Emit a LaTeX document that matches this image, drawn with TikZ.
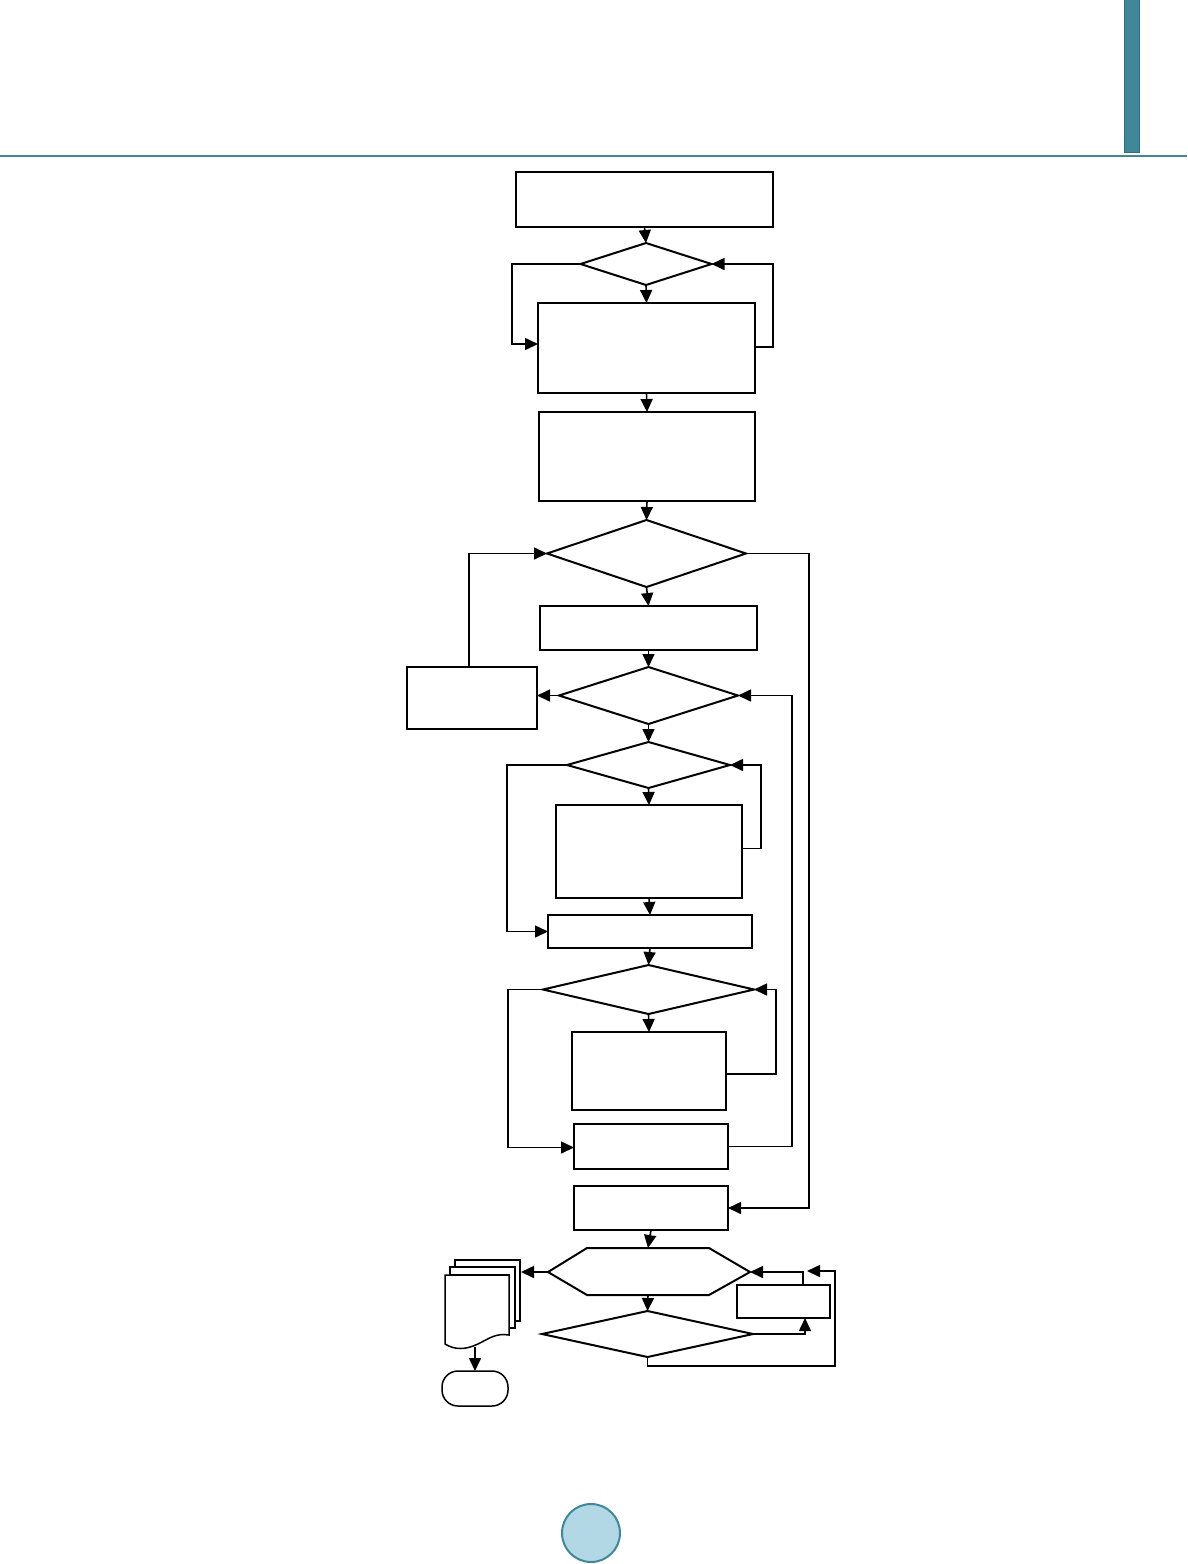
\documentclass[tikz,border=0pt]{standalone}
\usetikzlibrary{shapes.geometric,arrows.meta,calc}
\definecolor{teal1}{HTML}{3F8799}
\definecolor{teal2}{HTML}{2A6F82}
\definecolor{pagefill}{HTML}{B3D8E5}
\tikzset{
  box/.style={draw, line width=2.3pt, inner sep=0pt, outer sep=0pt, fill=white},
  dia/.style={draw, diamond, line width=2pt, inner sep=0pt, outer sep=0pt, fill=white},
  conn/.style={line width=1.6pt, -{Triangle[length=13pt,width=12pt]}},
}
\begin{document}
\begin{tikzpicture}[x=1pt,y=-1pt]
\useasboundingbox (0,0) rectangle (1187,1564);
% page decoration
\draw[teal1, line width=2.5pt] (0,156) -- (1187,156);
\draw[teal2, fill=teal1, line width=1pt] (1124,-2) rectangle (1139,152);
\draw[teal1, fill=pagefill, line width=2pt] (591,1533) circle (29);

% main column
\node[box, line width=2.8pt, minimum width=257pt, minimum height=55pt] (A) at (644.5,199.5) {};
\node[dia, minimum width=131pt, minimum height=42pt] (D1) at (646,264) {};
\node[box, line width=2.8pt, minimum width=217pt, minimum height=90pt] (B) at (646.5,348) {};
\node[box, minimum width=216pt, minimum height=89pt] (C) at (647,456.5) {};
\node[dia, minimum width=199pt, minimum height=67pt] (D2) at (646.5,553.5) {};
\node[box, minimum width=217pt, minimum height=44pt] (Dx) at (648.5,628) {};
\node[dia, minimum width=179pt, minimum height=57pt] (D3) at (648.5,695.5) {};
\node[box, minimum width=130pt, minimum height=62pt] (E) at (472,698) {};
\node[dia, minimum width=163pt, minimum height=46pt] (D4) at (648.5,765) {};
\node[box, minimum width=186pt, minimum height=93pt] (F) at (649,851.5) {};
\node[box, minimum width=204pt, minimum height=33pt] (G) at (650,931.5) {};
\node[dia, minimum width=211pt, minimum height=49pt] (D5) at (648.5,989.5) {};
\node[box, minimum width=154pt, minimum height=78pt] (H) at (649,1071) {};
\node[box, minimum width=154pt, minimum height=45pt] (I) at (651,1146.5) {};
\node[box, minimum width=154pt, minimum height=44pt] (J) at (651,1208) {};

% hexagon
\coordinate (Kl) at (548,1272);
\coordinate (Kr) at (750,1272);
\coordinate (Kt) at (648,1248);
\coordinate (Kb) at (648,1295);
\draw[line width=2pt, fill=white] (Kl) -- (587,1248) -- (709,1248) -- (Kr) -- (709,1295) -- (587,1295) -- cycle;

\node[dia, minimum width=211pt, minimum height=46pt] (D6) at (647.5,1334) {};
\node[box, minimum width=93pt, minimum height=33pt] (L) at (783.5,1301.5) {};

% document stack
\draw[line width=1.5pt, fill=white] (455,1260) -- (520,1260) -- (520,1321) -- (514,1321) -- (514,1267) -- (455,1267) -- cycle;
\draw[line width=1.5pt, fill=white] (450,1267) -- (515,1267) -- (515,1328) -- (509,1328) -- (509,1275) -- (450,1275) -- cycle;
\draw[line width=1.5pt, fill=white] (445,1275) -- (509,1275) -- (509,1335)
   .. controls (496,1333) and (490,1338) .. (478,1344)
   .. controls (465,1350) and (455,1350) .. (445,1344) -- cycle;
\coordinate (Doc) at (521,1272);
\coordinate (DocB) at (475,1347);
\node[draw, line width=1.5pt, rounded corners=16pt, inner sep=0pt, outer sep=0pt,
      minimum width=66pt, minimum height=35pt] (T) at (475,1388.5) {};

% vertical flow
\draw[conn] (A.south) -- (D1.north);
\draw[conn] (D1.south) -- (B.north);
\draw[conn] (B.south) -- (C.north);
\draw[conn] (C.south) -- (D2.north);
\draw[conn] (D2.south) -- (Dx.north);
\draw[conn] (Dx.south) -- (D3.north);
\draw[conn] (D3.south) -- (D4.north);
\draw[conn] (D4.south) -- (F.north);
\draw[conn] (F.south) -- (G.north);
\draw[conn] (G.south) -- (D5.north);
\draw[conn] (D5.south) -- (H.north);
\draw[conn] (J.south) -- (Kt);
\draw[conn] (Kb) -- (D6.north);

% loops
\draw[conn] (D1.west) -- (512,264) |- ([yshift=4pt]B.west);
\draw[conn] ([yshift=1pt]B.east) -- ++(18,0) |- (D1.east);
\draw[conn] (D2.east) -- (809,553.5) |- (J.east);
\draw[conn] (D3.west) -- (D3.west -| E.east);
\draw[conn] ([xshift=-3pt]E.north) |- (D2.west);
\draw[conn] (I.east) -- ++(64,0) |- (D3.east);
\draw[conn] (D4.west) -- ++(-60,0) |- (G.west);
\draw[conn] ([yshift=3pt]F.east) -- ++(19,0) |- (D4.east);
\draw[conn] (D5.west) -- ++(-35,0) |- ([yshift=-1pt]I.west);
\draw[conn] ([yshift=-3pt]H.east) -- ++(50,0) |- (D5.east);

% bottom
\draw[conn] (Kl) -- (Doc);
\draw[conn] (DocB) -- (T.north);
\draw[conn] (D6.east) -| ([xshift=21.5pt]L.south);
\draw[conn] ([xshift=19.5pt]L.north) |- (Kr);
\draw[conn] (D6.south) -- ++(0,9) -| (835,1271) -- (807,1271);
\end{tikzpicture}
\end{document}
